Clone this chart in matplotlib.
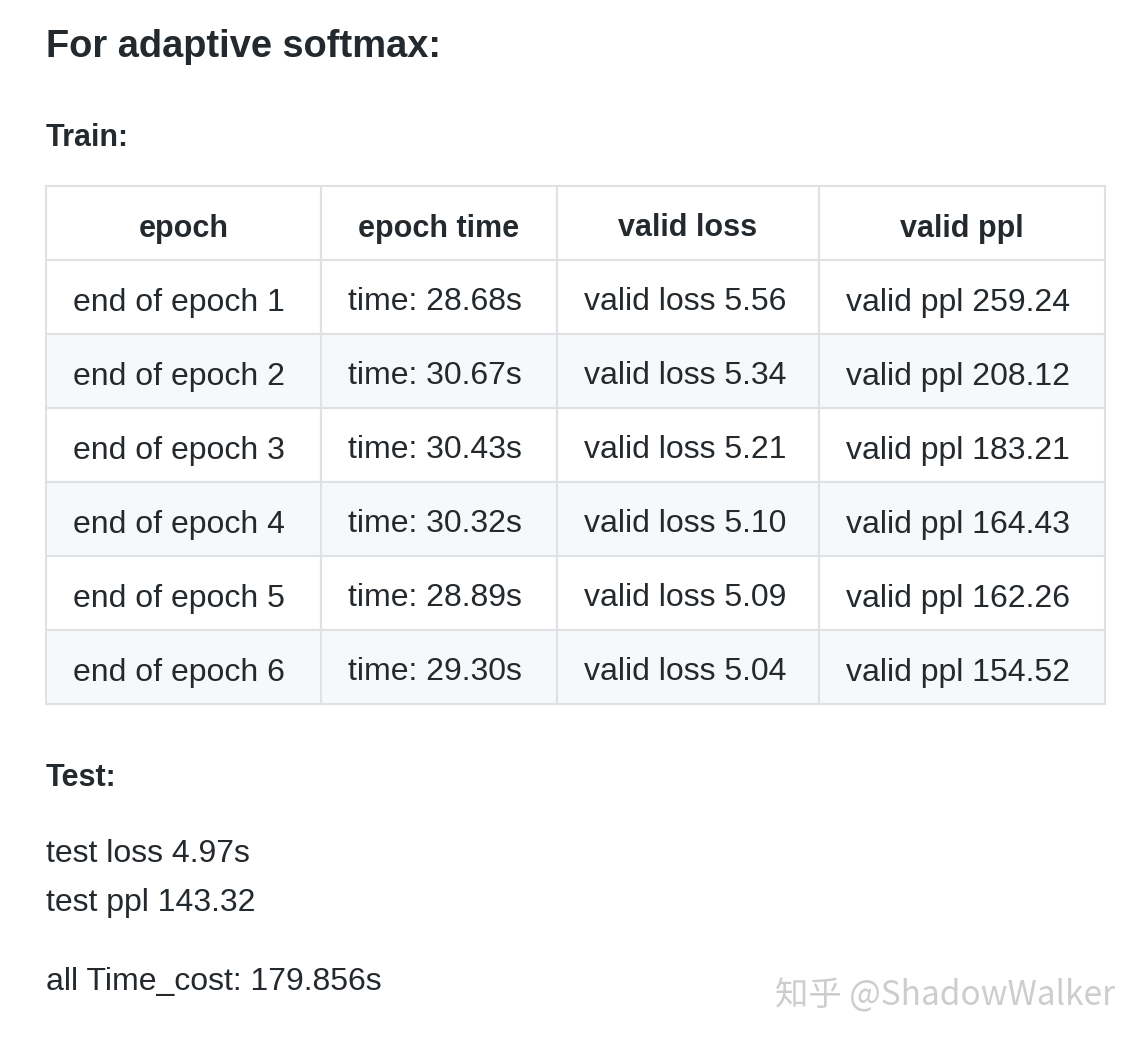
import matplotlib
matplotlib.use("Agg")
import matplotlib.pyplot as plt
from matplotlib.patches import Rectangle

headers = ["epoch", "epoch time", "valid loss", "valid ppl"]
epochs = ["end of epoch 1", "end of epoch 2", "end of epoch 3", "end of epoch 4", "end of epoch 5", "end of epoch 6"]
times = ["time: 28.68s", "time: 30.67s", "time: 30.43s", "time: 30.32s", "time: 28.89s", "time: 29.30s"]
losses = ["valid loss 5.56", "valid loss 5.34", "valid loss 5.21", "valid loss 5.10", "valid loss 5.09", "valid loss 5.04"]
ppls = ["valid ppl 259.24", "valid ppl 208.12", "valid ppl 183.21", "valid ppl 164.43", "valid ppl 162.26", "valid ppl 154.52"]

W, H = 1146, 1038
fig = plt.figure(figsize=(W/100, H/100), dpi=100)
ax = fig.add_axes([0, 0, 1, 1])
ax.set_xlim(0, W); ax.set_ylim(H, 0); ax.axis("off")
fam = ["Liberation Sans", "DejaVu Sans"]
tc = "#24292e"
bc = "#dfe2e5"
fs = 23
va = "center_baseline"

ax.text(46, 43, "For adaptive softmax:", fontsize=27.4, fontweight="bold", color=tc, va=va, family=fam)
ax.text(46, 135, "Train:", fontsize=22, fontweight="bold", color=tc, va=va, family=fam)

cols = [46, 321, 557, 819, 1105]
top, rh = 186, 74.0
rows = [headers] + [list(r) for r in zip(epochs, times, losses, ppls)]
for i, row in enumerate(rows):
    y0 = top + i * rh
    fc = "#f6f8fa" if i % 2 == 0 and i > 0 else "white"
    for j in range(4):
        ax.add_patch(Rectangle((cols[j], y0), cols[j+1]-cols[j], rh, facecolor=fc, edgecolor=bc, lw=1.5))
        if i == 0:
            ax.text((cols[j]+cols[j+1])/2, y0+rh/2+2, row[j], fontsize=22, fontweight="bold", color=tc,
                    ha="center", va=va, family=fam)
        else:
            ax.text(cols[j]+27, y0+rh/2+2, row[j], fontsize=fs, color=tc, ha="left", va=va, family=fam)

ax.text(46, 775, "Test:", fontsize=22, fontweight="bold", color=tc, va=va, family=fam)
ax.text(46, 851, "test loss 4.97s", fontsize=fs, color=tc, va=va, family=fam)
ax.text(46, 899, "test ppl 143.32", fontsize=fs, color=tc, va=va, family=fam)
ax.text(46, 978, "all Time_cost: 179.856s", fontsize=fs, color=tc, va=va, family=fam)
ax.text(1115, 992, "知乎 @ShadowWalker", fontsize=24, color="#c8c8c8", ha="right", va=va,
        family=["Noto Sans CJK SC", "DejaVu Sans"], alpha=0.9)

fig.savefig("out.png", dpi=100, facecolor="white")
